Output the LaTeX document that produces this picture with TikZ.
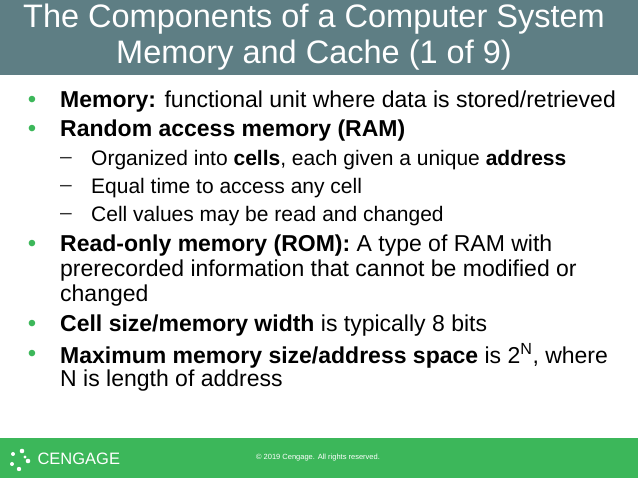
\documentclass[tikz,border=0pt]{standalone}
\usepackage{fontspec}
\setmainfont{Liberation Sans}
\definecolor{hdr}{HTML}{5E7E84}
\definecolor{grn}{HTML}{3CB75A}
\begin{document}
\begin{tikzpicture}[x=1pt,y=-1pt,
 main/.style={anchor=west,font=\fontsize{23}{26}\selectfont,inner sep=0},
 sub/.style={anchor=west,font=\fontsize{21}{24}\selectfont,inner sep=0},
 bul/.style={anchor=center,text=grn,font=\fontsize{24}{24}\selectfont,inner sep=0},
 dsh/.style={anchor=center,text=black!80,font=\fontsize{21}{24}\selectfont,inner sep=0}]
\useasboundingbox (0,0) rectangle (638,478);
\fill[hdr] (0,0) rectangle (638,75);
\node[text=white,font=\fontsize{32.5}{36}\selectfont,align=center] (title) at (314,37) {The Components of a Computer System\\Memory and Cache (1 of 9)};
\fill[grn] (0,438) rectangle (638,478);
\node[text=white,font=\fontsize{7.5}{9}\selectfont] (copy) at (318,458) {\textcopyright{} 2019 Cengage. All rights reserved.};
\node[text=white,font=\fontsize{16.5}{18}\selectfont,anchor=west] (logo) at (34,459) {CENGAGE};
\foreach \p/\r in {{(13,454)}/2,{(22,451)}/2.3,{(12,464)}/2,{(19,469)}/2.2,{(28,461)}/2.3,{(25,457)}/1.6}{\fill[white] \p circle (\r);}
\node[bul] (b1) at (32,102) {•};
\node[main] (t1) at (60,102) {\textbf{Memory:} functional unit where data is stored/retrieved};
\node[bul] (b2) at (32,131) {•};
\node[main] (t2) at (60,131) {\textbf{Random access memory (RAM)}};
\node[dsh] (d1) at (66,160) {–};
\node[sub] (s1) at (91,160) {Organized into \textbf{cells}, each given a unique \textbf{address}};
\node[dsh] (d2) at (66,188) {–};
\node[sub] (s2) at (91,188) {Equal time to access any cell};
\node[dsh] (d3) at (66,216) {–};
\node[sub] (s3) at (91,216) {Cell values may be read and changed};
\node[bul] (b3) at (32,246) {•};
\node[main] (t3) at (60,246) {\textbf{Read-only memory (ROM):} A type of RAM with};
\node[main] (t3b) at (60,271) {prerecorded information that cannot be modified or};
\node[main] (t3c) at (60,296) {changed};
\node[bul] (b4) at (32,326) {•};
\node[main] (t4) at (60,326) {\textbf{Cell size/memory width} is typically 8 bits};
\node[bul] (b5) at (32,356) {•};
\node[main] (t5) at (60,356) {\textbf{Maximum memory size/address space} is 2\textsuperscript{N}, where};
\node[main] (t5b) at (60,381) {N is length of address};
\end{tikzpicture}
\end{document}
